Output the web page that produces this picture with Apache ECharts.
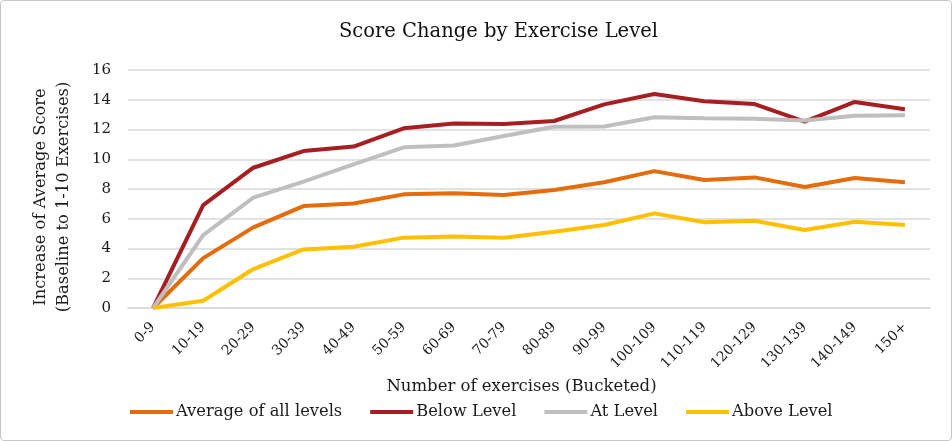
<!DOCTYPE html>
<html>
<head>
<meta charset="utf-8">
<script src="https://cdn.jsdelivr.net/npm/echarts@6/dist/echarts.min.js"></script>
<style>
html,body{margin:0;padding:0;background:#fff;}
#wrap{position:absolute;left:0;top:0;width:952px;height:441px;box-sizing:border-box;border:1.5px solid #c6c6c6;border-radius:4px;}
#chart{position:absolute;left:0;top:0;width:952px;height:441px;}
</style>
</head>
<body>
<div id="wrap"></div>
<div id="chart"></div>
<script>
var categories = ["0-9","10-19","20-29","30-39","40-49","50-59","60-69","70-79","80-89","90-99","100-109","110-119","120-129","130-139","140-149","150+"];
var averageAll = [0, 3.35, 5.42, 6.85, 7.03, 7.64, 7.71, 7.6, 7.93, 8.45, 9.2, 8.6, 8.78, 8.13, 8.74, 8.45];
var belowLevel = [0, 6.92, 9.43, 10.55, 10.85, 12.08, 12.4, 12.37, 12.57, 13.69, 14.39, 13.9, 13.71, 12.53, 13.85, 13.36];
var atLevel    = [0, 4.9, 7.42, 8.5, 9.66, 10.8, 10.93, 11.56, 12.19, 12.2, 12.82, 12.75, 12.73, 12.6, 12.93, 12.95];
var aboveLevel = [0, 0.49, 2.62, 3.94, 4.12, 4.73, 4.8, 4.73, 5.13, 5.58, 6.36, 5.76, 5.87, 5.24, 5.8, 5.58];
var yTicks = {min: 0, max: 16, interval: 2};
var yAxisTitle = 'Increase of Average Score\n(Baseline to 1-10 Exercises)';

var FONT = "DejaVu Serif";
var chart = echarts.init(document.getElementById('chart'), null, {renderer: 'canvas'});
function line(name, data, color) {
  return {
    name: name, type: 'line', data: data, symbol: 'none', showSymbol: false,
    lineStyle: {color: color, width: 4}, itemStyle: {color: color},
    emphasis: {disabled: true}
  };
}
chart.setOption({
  animation: false,
  backgroundColor: 'transparent',
  textStyle: {fontFamily: FONT, color: '#1a1a1a'},
  title: {
    text: 'Score Change by Exercise Level',
    left: 334, top: 17,
    textStyle: {fontFamily: FONT, fontSize: 19.5, fontWeight: 'normal', color: '#111'}
  },
  legend: {
    bottom: 16, left: 125,
    itemWidth: 43, itemHeight: 4, itemGap: 28,
    icon: 'rect',
    textStyle: {fontFamily: FONT, fontSize: 16.3, color: '#1a1a1a', padding: [0,0,0,-2]},
    data: ['Average of all levels','Below Level','At Level','Above Level']
  },
  grid: {left: 128, right: 22, top: 70, bottom: 133, containLabel: false},
  graphic: [{
    type: 'text', x: 52, y: 197, rotation: Math.PI / 2,
    style: {text: yAxisTitle, fill: '#1a1a1a', font: '16.3px "DejaVu Serif"', lineHeight: 23, align: 'center', verticalAlign: 'middle'}
  }],
  xAxis: {
    type: 'category', data: categories, boundaryGap: true,
    name: 'Number of exercises (Bucketed)', nameLocation: 'middle', nameGap: 61,
    nameTextStyle: {fontFamily: FONT, fontSize: 16.5, color: '#1a1a1a', padding: [0, 15, 0, 0]},
    axisLine: {show: true, lineStyle: {color: '#d9d9d9', width: 1.5}},
    axisTick: {show: false},
    axisLabel: {rotate: 45, fontFamily: FONT, fontSize: 14, color: '#1a1a1a', margin: 17, interval: 0}
  },
  yAxis: {
    type: 'value', min: yTicks.min, max: yTicks.max, interval: yTicks.interval,
    axisLine: {show: false}, axisTick: {show: false},
    axisLabel: {fontFamily: FONT, fontSize: 15, color: '#1a1a1a', margin: 17},
    splitLine: {show: true, lineStyle: {color: '#d9d9d9', width: 1.5}}
  },
  series: [
    line('Average of all levels', averageAll, '#E46C0A'),
    line('Below Level', belowLevel, '#A51F22'),
    line('At Level', atLevel, '#BFBFBF'),
    line('Above Level', aboveLevel, '#FFC000')
  ]
});
</script>
</body>
</html>
